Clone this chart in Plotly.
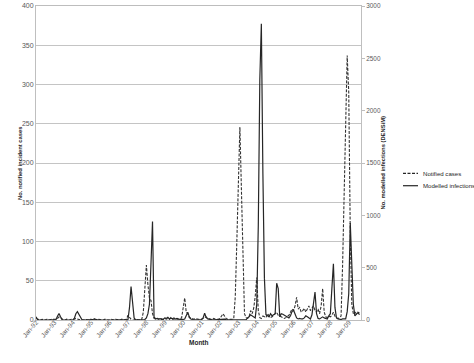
import plotly.graph_objects as go

# ---- data (monthly, Jan-92 .. Aug-09) ----
tick_labels = ["Jan-92", "Jan-93", "Jan-94", "Jan-95", "Jan-96", "Jan-97", "Jan-98", "Jan-99",
               "Jan-00", "Jan-01", "Jan-02", "Jan-03", "Jan-04", "Jan-05", "Jan-06", "Jan-07",
               "Jan-08", "Jan-09"]
series_names = ["Notified cases", "Modelled infections"]

notified_1992 = [2, 1, 1, 0, 1, 0, 0, 1, 0, 0, 1, 1]
notified_1993 = [1, 1, 2, 4, 3, 1, 0, 0, 1, 0, 0, 1]
notified_1994 = [1, 1, 2, 1, 1, 0, 0, 0, 1, 0, 0, 1]
notified_1995 = [1, 0, 1, 0, 0, 1, 0, 0, 0, 1, 0, 0]
notified_1996 = [0, 1, 0, 0, 1, 0, 0, 0, 1, 0, 1, 1]
notified_1997 = [6, 3, 1, 0, 0, 1, 0, 0, 1, 1, 10, 40]
notified_1998 = [70, 45, 28, 25, 8, 2, 1, 2, 1, 2, 1, 1]
notified_1999 = [2, 1, 2, 1, 3, 1, 1, 2, 1, 1, 1, 3]
notified_2000 = [18, 28, 10, 8, 3, 2, 1, 1, 2, 1, 1, 1]
notified_2001 = [1, 2, 3, 4, 2, 1, 1, 1, 2, 1, 1, 1]
notified_2002 = [2, 5, 8, 5, 2, 1, 1, 1, 1, 2, 30, 100]
notified_2003 = [173, 246, 166, 86, 8, 3, 2, 4, 12, 8, 15, 30]
notified_2004 = [54, 12, 3, 2, 5, 4, 3, 8, 5, 3, 4, 6]
notified_2005 = [8, 10, 6, 5, 4, 3, 2, 3, 4, 6, 10, 14]
notified_2006 = [12, 18, 29, 14, 16, 10, 12, 15, 10, 14, 18, 12]
notified_2007 = [15, 18, 12, 10, 14, 8, 18, 40, 10, 4, 3, 5]
notified_2008 = [4, 6, 10, 5, 3, 2, 3, 5, 70, 160, 250, 337]
notified_2009 = [290, 110, 20, 8, 10, 8, 10, 9]

modelled_1992 = [30, 5, 2, 0, 0, 0, 0, 0, 0, 0, 0, 0]
modelled_1993 = [0, 3, 35, 63, 30, 2, 0, 0, 0, 0, 0, 0]
modelled_1994 = [0, 15, 60, 80, 50, 20, 3, 0, 0, 0, 0, 0]
modelled_1995 = [2, 3, 10, 4, 2, 1, 0, 0, 0, 0, 0, 0]
modelled_1996 = [0, 0, 0, 0, 2, 0, 0, 0, 0, 0, 0, 0]
modelled_1997 = [5, 120, 320, 170, 20, 2, 1, 1, 1, 0, 2, 5]
modelled_1998 = [20, 60, 150, 540, 940, 30, 10, 15, 8, 12, 5, 6]
modelled_1999 = [20, 15, 25, 10, 18, 12, 20, 8, 15, 10, 5, 8]
modelled_2000 = [5, 10, 40, 75, 30, 10, 5, 3, 2, 2, 3, 2]
modelled_2001 = [5, 20, 65, 25, 10, 5, 3, 2, 2, 3, 5, 3]
modelled_2002 = [3, 5, 10, 8, 3, 2, 2, 2, 3, 2, 2, 2]
modelled_2003 = [2, 2, 3, 5, 3, 2, 20, 30, 50, 40, 30, 20]
modelled_2004 = [150, 900, 2300, 2830, 1400, 400, 50, 40, 30, 60, 40, 50]
modelled_2005 = [60, 352, 300, 30, 60, 55, 45, 40, 30, 20, 40, 80]
modelled_2006 = [94, 60, 20, 10, 15, 10, 10, 20, 40, 30, 20, 10]
modelled_2007 = [50, 150, 267, 60, 15, 10, 20, 30, 20, 15, 10, 40]
modelled_2008 = [60, 300, 537, 120, 20, 10, 5, 5, 10, 8, 10, 80]
modelled_2009 = [250, 927, 560, 150, 40, 60, 70, 50]

notified = (notified_1992 + notified_1993 + notified_1994 + notified_1995 + notified_1996 +
            notified_1997 + notified_1998 + notified_1999 + notified_2000 + notified_2001 +
            notified_2002 + notified_2003 + notified_2004 + notified_2005 + notified_2006 +
            notified_2007 + notified_2008 + notified_2009)
modelled = (modelled_1992 + modelled_1993 + modelled_1994 + modelled_1995 + modelled_1996 +
            modelled_1997 + modelled_1998 + modelled_1999 + modelled_2000 + modelled_2001 +
            modelled_2002 + modelled_2003 + modelled_2004 + modelled_2005 + modelled_2006 +
            modelled_2007 + modelled_2008 + modelled_2009)
months = list(range(len(notified)))
tick_positions = [12 * i for i in range(len(tick_labels))]

FONT = "Liberation Sans"
GRID = "#c4c4c4"
TICKC = "#595959"
DARK = "#262626"
DASH = "3px,1.5px"

fig = go.Figure()
fig.add_trace(go.Scatter(x=months, y=notified, mode="lines", name=series_names[0],
                         line=dict(color="#333333", width=1.1, dash=DASH), showlegend=False))
fig.add_trace(go.Scatter(x=months, y=modelled, mode="lines", name=series_names[1],
                         line=dict(color=DARK, width=1.2), yaxis="y2", showlegend=False))

W, H = 474, 363
L, R, T, B = 36, 361, 2, 320
pw, ph = R - L, B - T

def px_x(x):
    return (x - L) / pw

def px_y(y):
    return (B - y) / ph

# legend drawn as sample lines + labels
legend_rows = [(171.5, series_names[0], DASH, 1.1), (184, series_names[1], "solid", 1.2)]
shapes = []
annotations = []
for ypx, label, dash, w in legend_rows:
    shapes.append(dict(type="line", xref="paper", yref="paper",
                       x0=px_x(403), x1=px_x(418), y0=px_y(ypx), y1=px_y(ypx),
                       line=dict(color=DARK, width=w, dash=dash)))
    annotations.append(dict(text=label, x=px_x(421), y=px_y(ypx), xref="paper", yref="paper",
                            xanchor="left", yanchor="middle", showarrow=False,
                            font=dict(size=6.1, color=DARK)))

annotations += [
    dict(text="<b>Month</b>", x=px_x(199), y=px_y(348.5), xref="paper", yref="paper",
         showarrow=False, font=dict(size=6.5, color=DARK)),
    dict(text="<b>No. notified incident cases</b>", x=px_x(15), y=px_y(162),
         xref="paper", yref="paper", showarrow=False, textangle=-90,
         font=dict(size=5.8, color=DARK)),
    dict(text="<b>No. modelled infections (DENSiM)</b>", x=px_x(387.5), y=px_y(161),
         xref="paper", yref="paper", showarrow=False, textangle=-90,
         font=dict(size=5.8, color=DARK)),
]

fig.update_layout(
    width=W, height=H,
    margin=dict(l=L, r=W - R, t=T, b=H - B, pad=0),
    paper_bgcolor="white", plot_bgcolor="white",
    font=dict(family=FONT, size=7, color=TICKC),
    showlegend=False,
    xaxis=dict(range=[0, len(months)], tickmode="array", tickvals=tick_positions,
               ticktext=tick_labels, tickangle=-50, showgrid=False, zeroline=False,
               showline=True, mirror=True, linecolor="#bdbdbd", linewidth=1.3, ticks="",
               ticklabelstandoff=-5, tickfont=dict(size=6.5, color=TICKC)),
    yaxis=dict(range=[0, 400], dtick=50, showgrid=True, gridcolor=GRID, gridwidth=1.3,
               zeroline=False, showline=True, linecolor="#bfbfbf", linewidth=1,
               ticks="", ticklabeloverflow="allow", tickfont=dict(size=7, color=TICKC)),
    yaxis2=dict(range=[0, 3000], dtick=500, overlaying="y", side="right", showgrid=False,
                zeroline=False, showline=True, linecolor="#bfbfbf", linewidth=1,
                ticks="outside", ticklen=3, tickcolor="#bfbfbf", ticklabeloverflow="allow",
                tickfont=dict(size=6.4, color=TICKC)),
    shapes=shapes,
    annotations=annotations,
)

fig.write_html("out.html", config={"displayModeBar": False},
               post_script="document.body.style.margin='0';document.body.style.padding='0';")
